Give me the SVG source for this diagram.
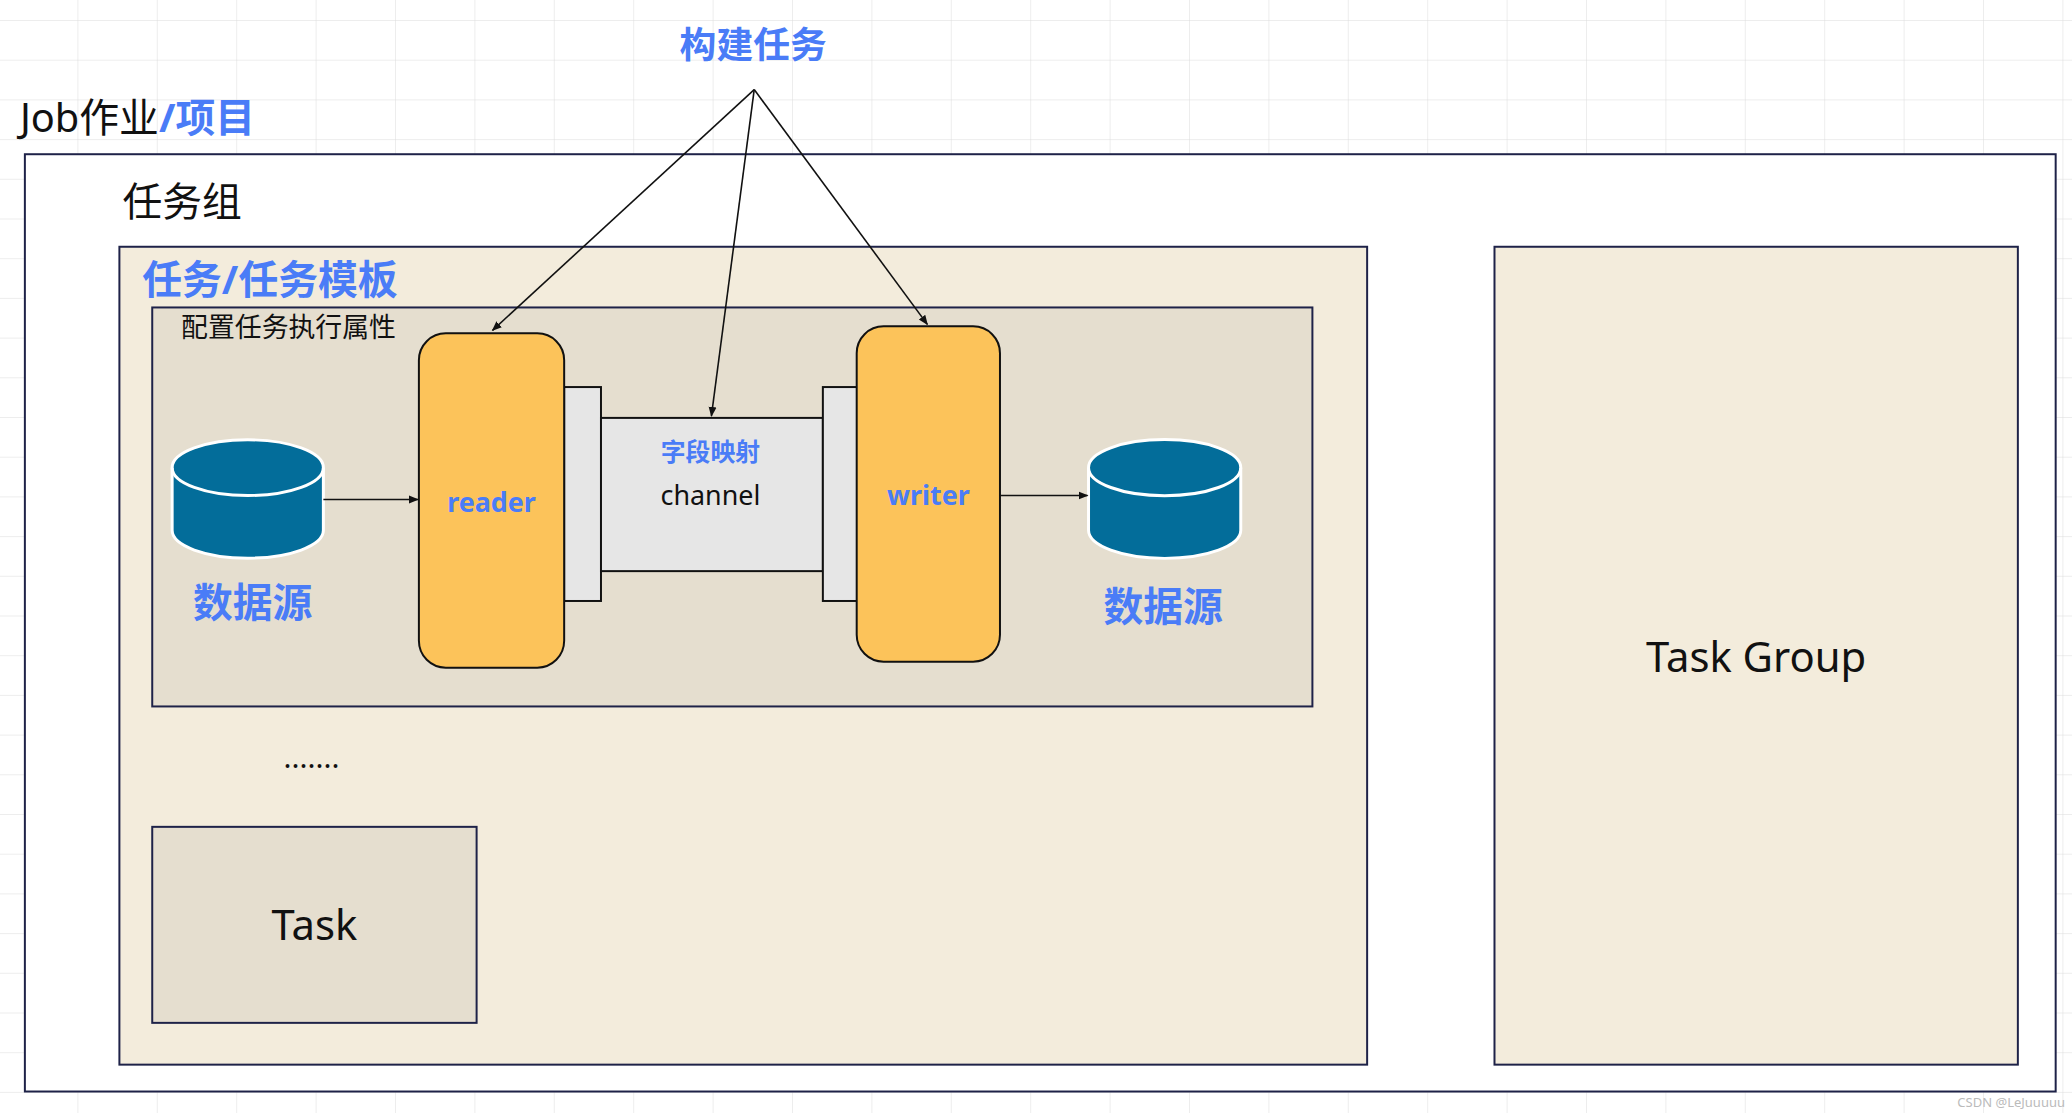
<svg xmlns="http://www.w3.org/2000/svg" width="2072" height="1113" viewBox="0 0 2072 1113">
<defs>
<pattern id="grid" width="79.4" height="39.7" patternUnits="userSpaceOnUse" x="-2" y="20">
<path d="M0 0H79.4M0 0V39.7" fill="none" stroke="#dcdcdc" stroke-width="1"/>
</pattern>
<marker id="ah" markerWidth="10" markerHeight="10" refX="9" refY="5" orient="auto" markerUnits="userSpaceOnUse">
<path d="M0 1L10 5L0 9Z" fill="#111"/>
</marker>
<style>
text{font-family:"Noto Sans","Noto Sans CJK SC",sans-serif}
.box{stroke:#1e2248;stroke-width:2}
.blue{fill:#4a7cf7;font-weight:bold}
.cyl{fill:#036d9a;stroke:#fff;stroke-width:3}
.ln{stroke:#111;stroke-width:1.6;fill:none;marker-end:url(#ah)}
</style>
</defs>
<rect width="2072" height="1113" fill="#fff"/>
<rect width="2072" height="1113" fill="url(#grid)"/>
<g transform="scale(0.995)">
<g id="job">
<rect class="box" x="25" y="155" width="2041" height="942" fill="#fff"/>
<text x="20" y="133" font-size="40" fill="#111">Job作业<tspan class="blue">/项目</tspan></text>
<text x="123" y="217" font-size="40" fill="#111">任务组</text>
</g>
<g id="taskgroup1">
<rect class="box" x="120" y="248" width="1254" height="822" fill="#f3ecdc"/>
<text x="143" y="295" font-size="40" class="blue">任务/任务模板</text>
</g>
<g id="config">
<rect class="box" x="153" y="309" width="1166" height="401" fill="#e5decf"/>
<text x="182" y="339" font-size="27" fill="#111">配置任务执行属性</text>
</g>
<g id="src1">
<path class="cyl" d="M173 470V533A76 28 0 0 0 325 533V470A76 28 0 0 0 173 470Z"/>
<path d="M173 470A76 28 0 0 0 325 470" fill="none" stroke="#fff" stroke-width="3"/>
<text x="254" y="620" font-size="40" class="blue" text-anchor="middle">数据源</text>
</g>
<g id="channel">
<rect x="567" y="389" width="37" height="215" fill="#e6e6e6" stroke="#111" stroke-width="2"/>
<rect x="604" y="420" width="223" height="154" fill="#e6e6e6" stroke="#111" stroke-width="2"/>
<rect x="827" y="389" width="36" height="215" fill="#e6e6e6" stroke="#111" stroke-width="2"/>
<text x="714" y="463" font-size="25" class="blue" text-anchor="middle">字段映射</text>
<text x="714" y="508" font-size="27" fill="#111" text-anchor="middle">channel</text>
</g>
<g id="reader">
<rect x="421" y="335" width="146" height="336" rx="27" fill="#fcc35a" stroke="#111" stroke-width="2"/>
<text x="494" y="515" font-size="27" class="blue" text-anchor="middle">reader</text>
</g>
<g id="writer">
<rect x="861" y="328" width="144" height="337" rx="27" fill="#fcc35a" stroke="#111" stroke-width="2"/>
<text x="933" y="508" font-size="27" class="blue" text-anchor="middle">writer</text>
</g>
<g id="src2">
<path class="cyl" d="M1094 470V533A76 28 0 0 0 1247 533V470A76 28 0 0 0 1094 470Z"/>
<path d="M1094 470A76 28 0 0 0 1247 470" fill="none" stroke="#fff" stroke-width="3"/>
<text x="1169" y="624" font-size="40" class="blue" text-anchor="middle">数据源</text>
</g>
<g id="build">
<text x="757" y="58" font-size="37" class="blue" text-anchor="middle">构建任务</text>
</g>
<g id="dots"><text x="313" y="772" font-size="30" fill="#111" text-anchor="middle">.......</text></g>
<g id="task">
<rect class="box" x="153" y="831" width="326" height="197" fill="#e5decf"/>
<text x="316" y="945" font-size="42" fill="#111" text-anchor="middle">Task</text>
</g>
<g id="taskgroup2">
<rect class="box" x="1502" y="248" width="526" height="822" fill="#f3ecdc"/>
<text x="1765" y="675" font-size="42" fill="#111" text-anchor="middle">Task Group</text>
</g>
<g id="connectors">
<line class="ln" x1="325" y1="502" x2="420" y2="502"/>
<line class="ln" x1="1005" y1="498" x2="1093" y2="498"/>
<line class="ln" x1="758" y1="90" x2="495" y2="332"/>
<line class="ln" x1="758" y1="90" x2="715" y2="418"/>
<line class="ln" x1="758" y1="90" x2="932" y2="326"/>
</g>
</g>
<text x="2065" y="1107" font-size="13" fill="#bbb" text-anchor="end">CSDN @LeJuuuuu</text>
</svg>
